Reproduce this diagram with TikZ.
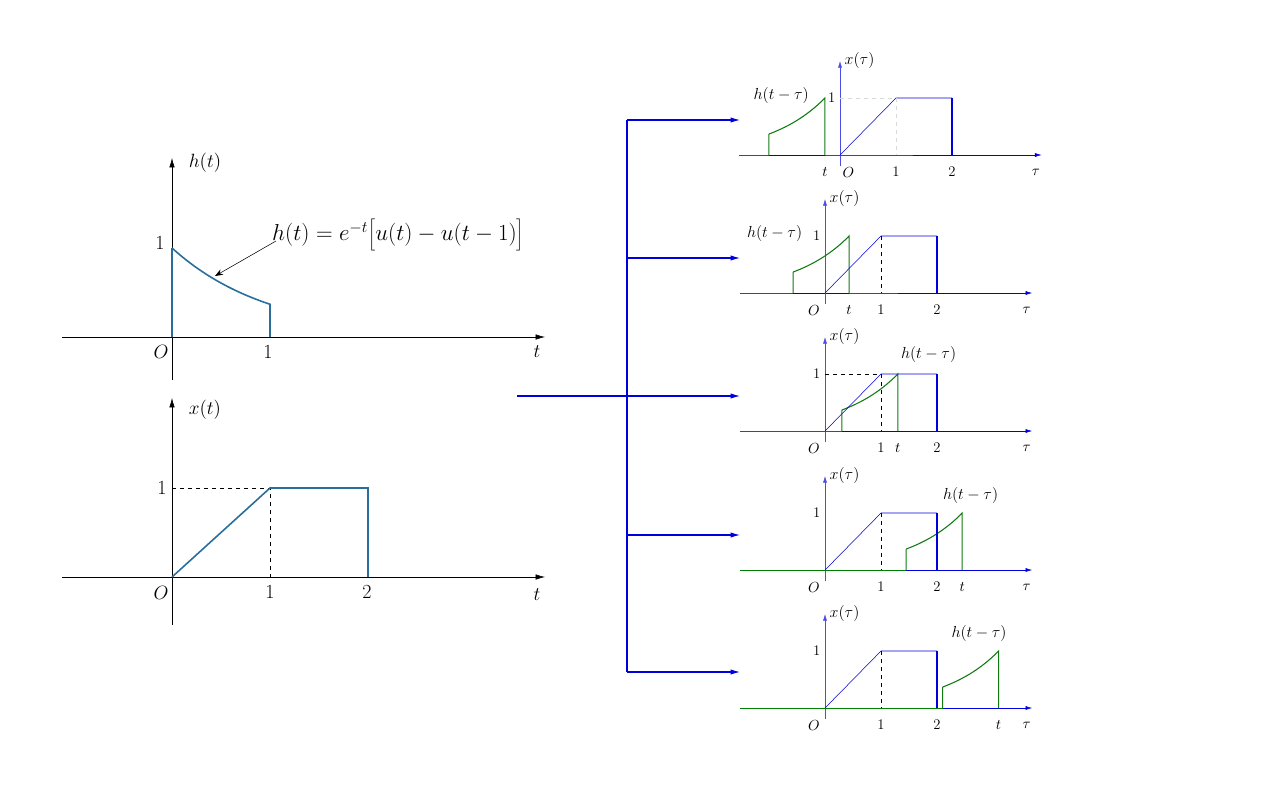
\documentclass[tikz,border=0pt]{standalone}
\usetikzlibrary{arrows.meta}
\definecolor{lb}{HTML}{2A6F9C}
\definecolor{pb}{HTML}{0000DD}
\definecolor{pg}{HTML}{107A10}
\newcommand\mypanel[8]{%
 \begin{scope}[shift={(#1,#2)},x=42pt,y=42.75pt]
  \draw[pb,-{Latex[length=5pt,width=3pt]}] (#8,0) -- (#6,0);
  \draw[pb!70,-{Latex[length=5pt,width=3pt]}] (0,-0.2) -- (0,1.65);
  \node[right,font=\fontsize{12}{13}\selectfont] at (0,1.65) {$x(\tau)$};
  \draw[green!50!black] (#8,0) -- (#3-1,0);
  \draw[green!50!black] (#3,0) -- ({max(#3,1.3)},0);
  \draw[pg,thick] (#3-1,0) -- (#3-1,0.368) plot[domain=0:1,samples=30] ({#3-1+\x},{0.367879*exp(\x)}) -- (#3,0);
  \draw[pb] (0,0) -- (1,1) -- (2,1);
  \draw[pb,thick] (2,1) -- (2,0);
  #7
  \node[font=\fontsize{11}{12}\selectfont,left] at (0,1) {1};
  \node[font=\fontsize{11}{12}\selectfont] at (1,-0.3) {1};
  \node[font=\fontsize{11}{12}\selectfont] at (2,-0.3) {2};
  \node[font=\fontsize{11}{12}\selectfont] at (#3,-0.3) {$t$};
  \node[font=\fontsize{11}{12}\selectfont] at (#6-0.1,-0.3) {$\tau$};
  \node[font=\fontsize{12}{13}\selectfont] at (#4,#5) {$h(t-\tau)$};
 \end{scope}}
\begin{document}
\begin{tikzpicture}[x=0.75pt,y=-0.75pt,ax/.style={-{Latex[length=7pt,width=4pt]}},lab/.style={font=\fontsize{15}{17}\selectfont}]
\useasboundingbox (0,0) rectangle (1280,800);
% top left h(t)
\draw[ax] (62,337) -- (545,337);
\draw[ax] (172,380) -- (172,158);
\draw[lb,very thick] (172,337) -- (172,248)
  plot[domain=0:1,samples=40] ({172+98*\x},{337-89*exp(-\x)}) -- (270,337);
\node[lab] (ht) at (205,163) {$h(t)$};
\node[lab] at (160,243) {1};
\node[lab] at (161,352) {$O$};
\node[lab] at (268,352) {1};
\node[lab] at (537,352) {$t$};
\node[font=\fontsize{17}{19}\selectfont] (f) at (398,235) {$h(t)=e^{-t}\biggl[u(t)-u(t-1)\biggr]$};
\draw[-{Stealth[length=6pt]}] (276,241) -- (215,276);
% bottom left x(t)
\draw[ax] (62,577) -- (545,577);
\draw[ax] (172,625) -- (172,398);
\draw[dashed] (172,488) -- (270,488) -- (270,577);
\draw[lb,very thick] (172,577) -- (270,488) -- (368,488) -- (368,577);
\node[lab] at (205,410) {$x(t)$};
\node[lab] at (162,488) {1};
\node[lab] at (161,593) {$O$};
\node[lab] at (270,592) {1};
\node[lab] at (367,592) {2};
\node[lab] at (537,595) {$t$};
% connectors
\draw[pb,thick] (627,120) -- (627,672);
\draw[pb,thick,-{Latex[length=7pt,width=4pt]}] (517,396) -- (740,396);
\foreach \yy in {120,258,535,672}
  \draw[pb,thick,-{Latex[length=7pt,width=4pt]}] (627,\yy) -- (740,\yy);
% panels
\mypanel{840}{155}{-0.27}{-1.05}{1.05}{3.6}{\draw[gray!30,dashed] (0,1)--(1,1)--(1,0); \node[font=\fontsize{11}{12}\selectfont] at (0.15,-0.3) {$O$};}{-1.8}
\mypanel{825}{293}{0.43}{-0.9}{1.05}{3.7}{\draw[dashed] (1,1)--(1,0); \node[font=\fontsize{11}{12}\selectfont] at (-0.2,-0.3) {$O$};}{-1.52}
\mypanel{825}{431}{1.3}{1.85}{1.35}{3.7}{\draw[dashed] (0,1)--(1,1)--(1,0); \node[font=\fontsize{11}{12}\selectfont] at (-0.2,-0.3) {$O$};}{-1.52}
\mypanel{825}{570}{2.45}{2.6}{1.3}{3.7}{\draw[dashed] (1,1)--(1,0); \node[font=\fontsize{11}{12}\selectfont] at (-0.2,-0.3) {$O$};}{-1.52}
\mypanel{825}{708}{3.1}{2.75}{1.3}{3.7}{\draw[dashed] (1,1)--(1,0); \node[font=\fontsize{11}{12}\selectfont] at (-0.2,-0.3) {$O$};}{-1.52}
\end{tikzpicture}
\end{document}
